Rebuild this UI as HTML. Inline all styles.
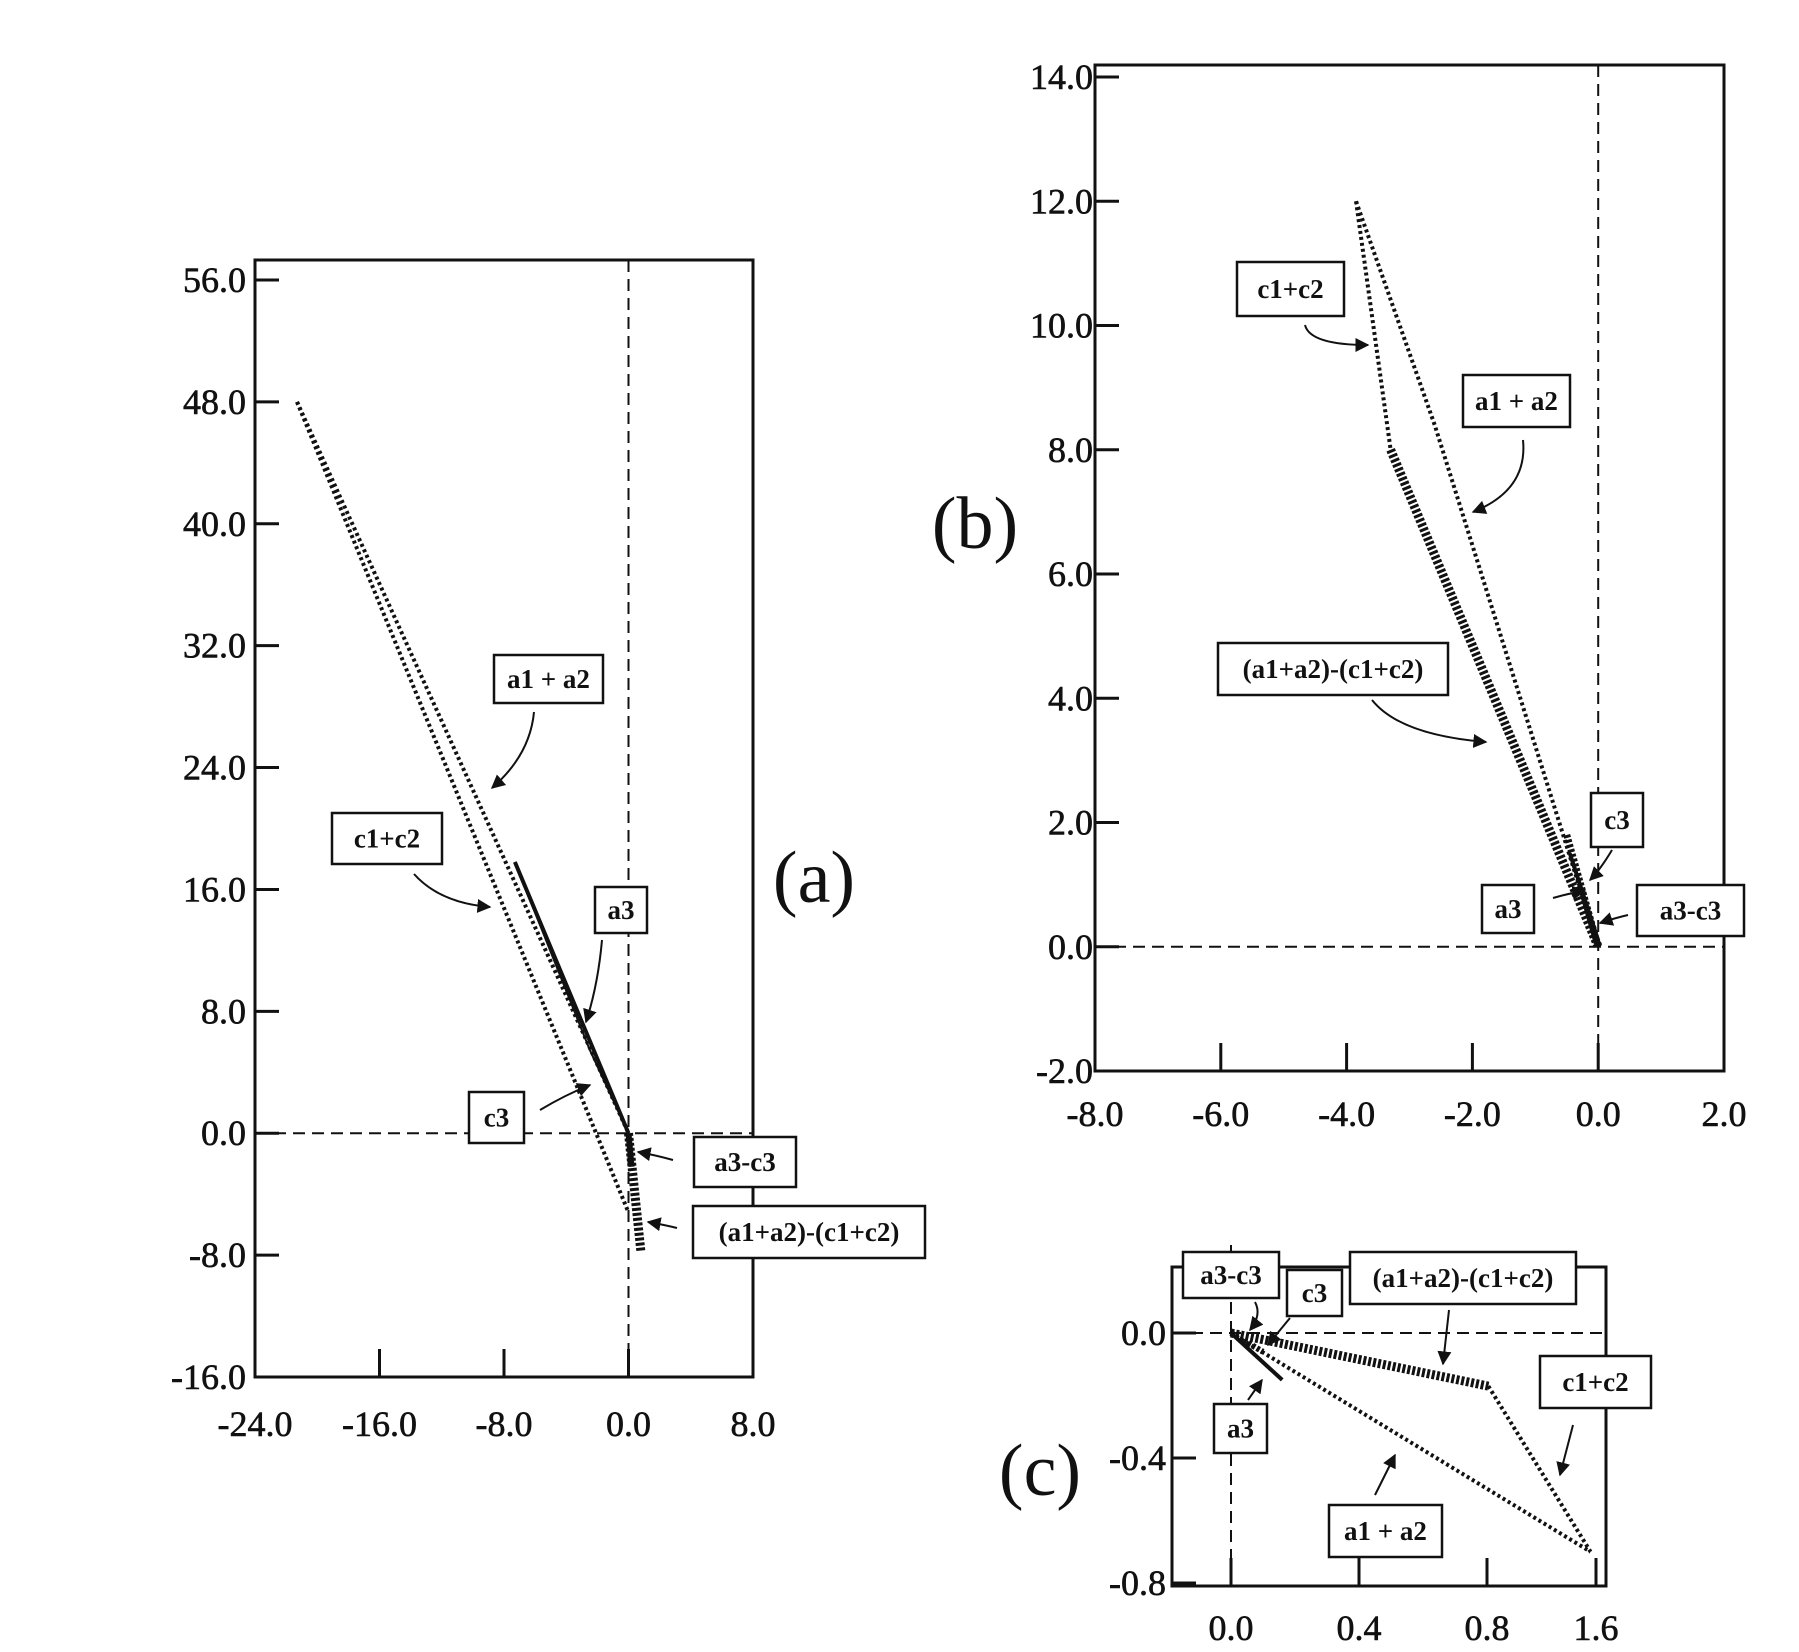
<!DOCTYPE html>
<html><head><meta charset="utf-8"><style>
html,body{margin:0;padding:0;background:#fff}
svg{display:block}
text{font-family:"Liberation Serif",serif;fill:#111}
.tick{font-size:36px;stroke:#111;stroke-width:0.6px}
.lab{font-size:27px;font-weight:bold}
.panel{font-size:74px}
</style></head><body>
<svg id="s" width="1799" height="1652" viewBox="0 0 1799 1652" xmlns="http://www.w3.org/2000/svg">
<defs><marker id="ah" viewBox="0 0 10 10" refX="9" refY="5" markerWidth="7" markerHeight="7" orient="auto"><path d="M0,0 L10,5 L0,10 z" fill="#111"/></marker></defs>
</svg>
<script>
// ---- Panel (a) data ----
const aTicksY = [56, 48, 40, 32, 24, 16, 8, 0, -8, -16];
const aTicksX = [-24, -16, -8, 0, 8];
const aA12 = [[-21.3, 48], [0, 0]];
const aC12 = [[-21.3, 48], [0, -5.2]];
const aDiff = [[0, 0], [0.8, -7.8]];
const aA3 = [[-7.3, 17.8], [0, 0]];
const aC3 = [[-7.3, 17.8], [-2.5, 5.5], [0, 0]];
const aA3C3 = [[0, 0], [0.2, -2.2]];
// ---- Panel (b) data ----
const bTicksY = [14, 12, 10, 8, 6, 4, 2, 0, -2];
const bTicksX = [-8, -6, -4, -2, 0, 2];
const bA12 = [[-3.85, 12], [-2.6, 8.4], [0, 0]];
const bC12 = [[-3.85, 12], [-3.3, 8]];
const bDiff = [[-3.3, 8], [0, 0]];
const bA3 = [[-0.5, 1.8], [0, 0]];
const bC3 = [[-0.45, 1.5], [0, 0.1]];
// ---- Panel (c) data ----
const cTicksY = [0, -0.4, -0.8];
const cTicksX = [0, 0.4, 0.8, 1.6];
const cA12 = [[0, 0], [1.56, -0.7]];
const cC12 = [[0.81, -0.17], [1.56, -0.7]];
const cDiff = [[0, 0], [0.81, -0.17]];
const cA3 = [[0, 0], [0.16, -0.15]];
const cC3 = [[0, 0], [0.1, -0.06]];

const svg = document.getElementById('s');
const NS = 'http://www.w3.org/2000/svg';
function mk(tag, attrs, parent) {
  const e = document.createElementNS(NS, tag);
  for (const k in attrs) e.setAttribute(k, attrs[k]);
  (parent || svg).appendChild(e);
  return e;
}
function lin(d0, d1, r0, r1) { return v => r0 + (v - d0) * (r1 - r0) / (d1 - d0); }
function poly(dom, rng) {
  return v => {
    let i = 0;
    while (i < dom.length - 2 && v > dom[i + 1]) i++;
    return rng[i] + (v - dom[i]) * (rng[i + 1] - rng[i]) / (dom[i + 1] - dom[i]);
  };
}
function series(pts, X, Y, w, dash, name) {
  const p = mk('polyline', {points: pts.map(q => X(q[0]) + ',' + Y(q[1])).join(' '), fill: 'none', stroke: '#111', 'stroke-width': w, 'stroke-dasharray': dash || 'none'});
  
  
}
function label(x0, y0, x1, y1, txt, name) {
  const g = mk('g', {});
  
  
  mk('rect', {x: x0, y: y0, width: x1 - x0, height: y1 - y0, fill: '#fff', stroke: '#111', 'stroke-width': 2.5}, g);
  const t = mk('text', {x: (x0 + x1) / 2, y: (y0 + y1) / 2 + 9, 'text-anchor': 'middle', class: 'lab'}, g);
  t.textContent = txt;
}
function arrow(d, name) {
  const p = mk('path', {d: d, fill: 'none', stroke: '#111', 'stroke-width': 2, 'marker-end': 'url(#ah)'});
  
  
}
function frame(L, T, R, B, name) {
  const r = mk('rect', {x: L, y: T, width: R - L, height: B - T, fill: 'none', stroke: '#111', 'stroke-width': 3});
  
  
}
function zeroLines(X, Y, L, T, R, B, name) {
  const a = mk('line', {x1: L, x2: R, y1: Y(0), y2: Y(0), stroke: '#111', 'stroke-width': 2, 'stroke-dasharray': '12,7'});
  
  
  const b = mk('line', {x1: X(0), x2: X(0), y1: T, y2: B, stroke: '#111', 'stroke-width': 2, 'stroke-dasharray': '12,7'});
  
  
}
function yTicks(ticks, Y, L, fmt, name, lx) {
  ticks.forEach(v => {
    const l = mk('line', {x1: L, x2: L + 24, y1: Y(v), y2: Y(v), stroke: '#111', 'stroke-width': 3});
    
    
    const t = mk('text', {x: lx, y: Y(v) + 12, 'text-anchor': 'end', class: 'tick'});
    
    
    t.textContent = fmt(v);
  });
}
function xTicks(ticks, X, B, fmt, name, ly) {
  ticks.forEach(v => {
    const l = mk('line', {x1: X(v), x2: X(v), y1: B, y2: B - 28, stroke: '#111', 'stroke-width': 3});
    
    
    const t = mk('text', {x: X(v), y: ly, 'text-anchor': 'middle', class: 'tick'});
    
    
    t.textContent = fmt(v);
  });
}
function panelLabel(x, y, txt, name) {
  const t = mk('text', {x: x, y: y, 'text-anchor': 'middle', class: 'panel'});
  
  
  t.textContent = txt;
}
const f1 = v => v.toFixed(1);

// Panel (a)
{
  const X = lin(-24, 8, 255, 753), Y = lin(56, -16, 280, 1377);
  frame(255, 260, 753, 1377, 'panel-a-frame');
  zeroLines(X, Y, 255, 260, 753, 1377, 'panel-a');
  yTicks(aTicksY, Y, 255, f1, 'panel-a-y', 246);
  xTicks(aTicksX, X, 1377, f1, 'panel-a-x', 1436);
  series(aA12, X, Y, 4, '3,3', 'a-series-a1-a2');
  series(aC12, X, Y, 4, '3,3', 'a-series-c1-c2');
  series(aA3, X, Y, 4, null, 'a-series-a3');
  series(aC3, X, Y, 2, null, 'a-series-c3');
  series(aA3C3, X, Y, 6, null, 'a-series-a3-c3');
  series(aDiff, X, Y, 9, '3,2', 'a-series-diff');
  label(494, 655, 603, 703, 'a1 + a2', 'a-label-a1-a2');
  label(332, 813, 442, 864, 'c1+c2', 'a-label-c1-c2');
  label(595, 887, 647, 933, 'a3', 'a-label-a3');
  label(469, 1092, 524, 1143, 'c3', 'a-label-c3');
  label(694, 1137, 796, 1187, 'a3-c3', 'a-label-a3-c3');
  label(693, 1206, 925, 1258, '(a1+a2)-(c1+c2)', 'a-label-diff');
  arrow('M534,712 Q530,755 492,788', 'a-arrow-a1-a2');
  arrow('M414,874 Q440,903 490,907', 'a-arrow-c1-c2');
  arrow('M602,940 Q598,985 586,1022', 'a-arrow-a3');
  arrow('M540,1110 Q565,1095 590,1085', 'a-arrow-c3');
  arrow('M673,1160 Q655,1155 638,1152', 'a-arrow-a3-c3');
  arrow('M677,1228 Q665,1225 648,1222', 'a-arrow-diff');
  panelLabel(814, 902, '(a)', 'panel-a-label');
}
// Panel (b)
{
  const X = lin(-8, 2, 1095, 1724), Y = lin(14, -2, 77, 1071);
  frame(1095, 65, 1724, 1071, 'panel-b-frame');
  zeroLines(X, Y, 1095, 65, 1724, 1071, 'panel-b');
  yTicks(bTicksY, Y, 1095, f1, 'panel-b-y', 1093);
  xTicks(bTicksX, X, 1071, f1, 'panel-b-x', 1126);
  series(bA12, X, Y, 4, '3,3', 'b-series-a1-a2');
  series(bC12, X, Y, 4, '3,3', 'b-series-c1-c2');
  series(bDiff, X, Y, 9, '3,2', 'b-series-diff');
  series(bA3, X, Y, 7, '3,2', 'b-series-a3');
  series(bC3, X, Y, 4, null, 'b-series-c3');
  label(1237, 262, 1344, 316, 'c1+c2', 'b-label-c1-c2');
  label(1463, 375, 1570, 427, 'a1 + a2', 'b-label-a1-a2');
  label(1218, 643, 1448, 695, '(a1+a2)-(c1+c2)', 'b-label-diff');
  label(1591, 793, 1643, 847, 'c3', 'b-label-c3');
  label(1482, 885, 1534, 933, 'a3', 'b-label-a3');
  label(1637, 885, 1744, 936, 'a3-c3', 'b-label-a3-c3');
  arrow('M1305,325 Q1310,345 1368,345', 'b-arrow-c1-c2');
  arrow('M1523,440 Q1528,490 1473,512', 'b-arrow-a1-a2');
  arrow('M1372,700 Q1400,735 1486,742', 'b-arrow-diff');
  arrow('M1612,850 Q1600,870 1590,880', 'b-arrow-c3');
  arrow('M1553,898 Q1570,893 1585,891', 'b-arrow-a3');
  arrow('M1628,915 Q1615,918 1600,923', 'b-arrow-a3-c3');
  panelLabel(975, 548, '(b)', 'panel-b-label');
}
// Panel (c)
{
  const X = poly([0, 0.8, 1.6], [1231, 1487, 1596]), Y = lin(0, -0.8, 1333, 1583);
  frame(1172, 1267, 1606, 1586, 'panel-c-frame');
  zeroLines(X, Y, 1172, 1245, 1606, 1586, 'panel-c');
  yTicks(cTicksY, Y, 1172, f1, 'panel-c-y', 1166);
  xTicks(cTicksX, X, 1586, f1, 'panel-c-x', 1640);
  series(cA12, X, Y, 4, '3,3', 'c-series-a1-a2');
  series(cC12, X, Y, 4, '3,3', 'c-series-c1-c2');
  series(cDiff, X, Y, 9, '3,2', 'c-series-diff');
  series(cA3, X, Y, 4, null, 'c-series-a3');
  series(cC3, X, Y, 6, '3,2', 'c-series-c3');
  label(1183, 1252, 1279, 1298, 'a3-c3', 'c-label-a3-c3');
  label(1287, 1270, 1342, 1316, 'c3', 'c-label-c3');
  label(1350, 1252, 1576, 1304, '(a1+a2)-(c1+c2)', 'c-label-diff');
  label(1540, 1356, 1651, 1408, 'c1+c2', 'c-label-c1-c2');
  label(1214, 1404, 1267, 1453, 'a3', 'c-label-a3');
  label(1329, 1505, 1442, 1557, 'a1 + a2', 'c-label-a1-a2');
  arrow('M1255,1302 Q1262,1315 1250,1330', 'c-arrow-a3-c3');
  arrow('M1290,1318 Q1280,1330 1268,1345', 'c-arrow-c3');
  arrow('M1449,1310 L1443,1364', 'c-arrow-diff');
  arrow('M1573,1425 L1560,1475', 'c-arrow-c1-c2');
  arrow('M1375,1495 L1395,1455', 'c-arrow-a1-a2');
  arrow('M1248,1400 L1262,1380', 'c-arrow-a3');
  panelLabel(1040, 1495, '(c)', 'panel-c-label');
}
</script>
</body></html>
